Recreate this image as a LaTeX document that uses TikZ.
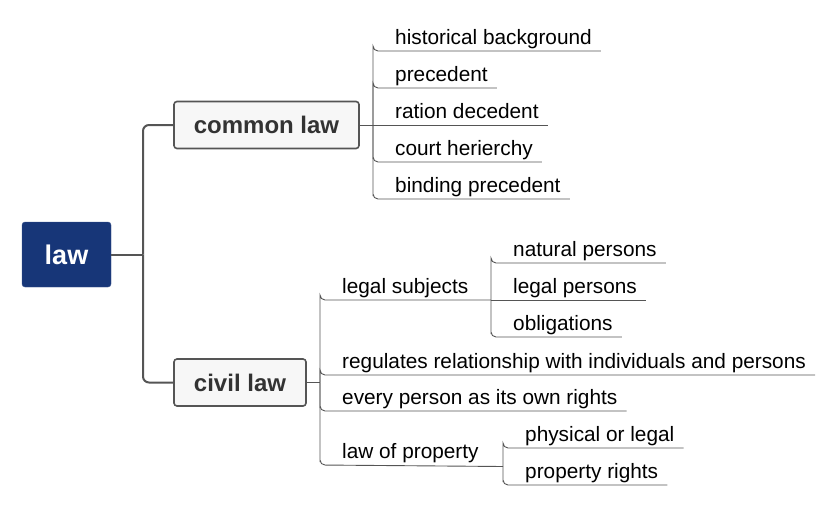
\documentclass[tikz,border=0pt]{standalone}
\usepackage{fontspec}
\setmainfont{Liberation Sans}
\definecolor{linegray}{RGB}{85,85,85}
\definecolor{rootblue}{RGB}{23,54,120}
\definecolor{boxfill}{RGB}{247,247,247}
\definecolor{textgray}{RGB}{51,51,51}
\begin{document}
\begin{tikzpicture}[x=1pt,y=-1pt,
  conn/.style={draw=linegray, line width=0.9pt, rounded corners=5pt},
  mainconn/.style={draw=linegray, line width=2pt, rounded corners=6pt},
  rootbox/.style={fill=rootblue, draw=rootblue!85!white, rounded corners=3pt, minimum width=89pt, minimum height=65pt, text=white, font=\fontsize{27}{31}\selectfont\bfseries},
  topic/.style={fill=boxfill, draw=linegray, line width=1.6pt, rounded corners=3pt, minimum height=47pt, text=textgray, font=\fontsize{24}{28}\selectfont\bfseries},
  leaf/.style={inner sep=0pt, anchor=base west, text=black, font=\fontsize{20.8}{24}\selectfont}]
\useasboundingbox (0,0) rectangle (838,506);
% root and topics
\node[rootbox] (law) at (66.5,254.5) {law};
\node[topic, minimum width=185pt] (common) at (266.5,125) {common law};
\node[topic, minimum width=132pt] (civil) at (240,382.5) {civil law};
\coordinate (jroot) at (143,254.5);
\draw[mainconn] (law.east) -- (jroot);
\draw[mainconn] (jroot) |- (common.west);
\draw[mainconn] (jroot) |- (civil.west);
% common law children
\coordinate (jc) at (373,125);
\node[leaf] (hb) at (395,44) {historical background};
\node[leaf] (pr) at (395,81) {precedent};
\node[leaf] (rd) at (395,118) {ration decedent};
\node[leaf] (ch) at (395,155) {court herierchy};
\node[leaf] (bp) at (395,192) {binding precedent};
\draw[conn] (common.east) -- ([xshift=9pt,yshift=-7pt]rd.base east);
\draw[conn] (jc) |- ([xshift=-22pt,yshift=-7pt]hb.base west) -- ([xshift=9pt,yshift=-7pt]hb.base east);
\draw[conn] (jc) |- ([xshift=-22pt,yshift=-7pt]pr.base west) -- ([xshift=9pt,yshift=-7pt]pr.base east);
\draw[conn] (jc) |- ([xshift=-22pt,yshift=-7pt]ch.base west) -- ([xshift=9pt,yshift=-7pt]ch.base east);
\draw[conn] (jc) |- ([xshift=-22pt,yshift=-7pt]bp.base west) -- ([xshift=9pt,yshift=-7pt]bp.base east);
% civil law children
\coordinate (jv) at (320,382.5);
\node[leaf] (ls) at (342,293) {legal subjects};
\node[leaf] (rr) at (342,368) {regulates relationship with individuals and persons};
\node[leaf] (ep) at (342,404) {every person as its own rights};
\node[leaf] (lp) at (342,458) {law of property};
\coordinate (jls) at (491,300);
\coordinate (jlp) at (503,466.5);
\draw[conn] (civil.east) -- (jv);
\draw[conn] (jv) |- ([xshift=-22pt,yshift=-7pt]ls.base west) -- (jls);
\draw[conn] (jv) |- ([xshift=-22pt,yshift=-7pt]rr.base west) -- ([xshift=9pt,yshift=-7pt]rr.base east);
\draw[conn] (jv) |- ([xshift=-22pt,yshift=-7pt]ep.base west) -- ([xshift=9pt,yshift=-7pt]ep.base east);
\draw[conn] (jv) |- ([xshift=-22pt,yshift=-7pt]lp.base west) -- (jlp);
% legal subjects children
\node[leaf] (np) at (513,256) {natural persons};
\node[leaf] (lps) at (513,293) {legal persons};
\node[leaf] (ob) at (513,330) {obligations};
\draw[conn] (jls) |- ([xshift=-22pt,yshift=-7pt]np.base west) -- ([xshift=9pt,yshift=-7pt]np.base east);
\draw[conn] (jls) -- ([xshift=9pt,yshift=-7pt]lps.base east);
\draw[conn] (jls) |- ([xshift=-22pt,yshift=-7pt]ob.base west) -- ([xshift=9pt,yshift=-7pt]ob.base east);
% law of property children
\node[leaf] (pl) at (525,441) {physical or legal};
\node[leaf] (prr) at (525,478) {property rights};
\draw[conn] (jlp) |- ([xshift=-22pt,yshift=-7pt]pl.base west) -- ([xshift=9pt,yshift=-7pt]pl.base east);
\draw[conn] (jlp) |- ([xshift=-22pt,yshift=-7pt]prr.base west) -- ([xshift=9pt,yshift=-7pt]prr.base east);
\end{tikzpicture}
\end{document}
